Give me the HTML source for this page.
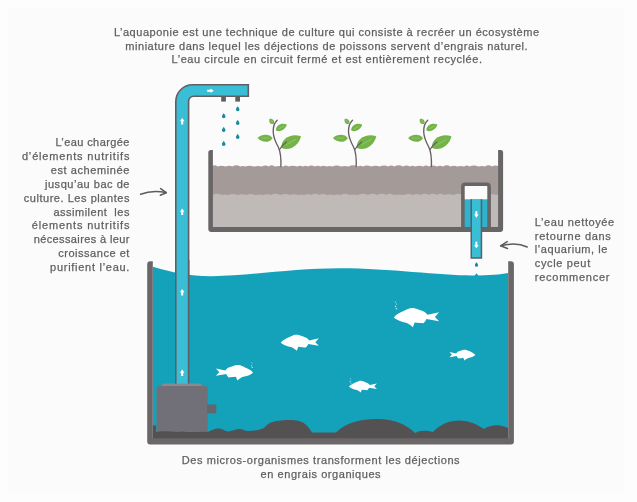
<!DOCTYPE html>
<html><head><meta charset="utf-8"><style>
html,body{margin:0;padding:0;background:#fbfbfb;}
svg{display:block;font-family:"Liberation Sans",sans-serif;}
text{will-change:transform;}
</style></head><body>
<svg width="637" height="502" viewBox="0 0 637 502">
<rect width="637" height="502" fill="#fdfdfd"/>
<rect x="8" y="8" width="616" height="484" fill="#fbfbfb"/>
<text x="114.0" y="35.7" textLength="425.0" lengthAdjust="spacing" font-size="11" fill="#5f5f5f" stroke="#5f5f5f" stroke-width="0.25">L’aquaponie est une technique de culture qui consiste à recréer un écosystème</text>
<text x="125.3" y="49.8" textLength="402.3" lengthAdjust="spacing" font-size="11" fill="#5f5f5f" stroke="#5f5f5f" stroke-width="0.25">miniature dans lequel les déjections de poissons servent d’engrais naturel.</text>
<text x="171.6" y="63.2" textLength="310.4" lengthAdjust="spacing" font-size="11" fill="#5f5f5f" stroke="#5f5f5f" stroke-width="0.25">L’eau circule en circuit fermé et est entièrement recyclée.</text>
<text x="55.4" y="146.0" textLength="74.0" lengthAdjust="spacing" font-size="11" fill="#5f5f5f" stroke="#5f5f5f" stroke-width="0.25">L’eau chargée</text>
<text x="21.9" y="159.9" textLength="107.5" lengthAdjust="spacing" font-size="11" fill="#5f5f5f" stroke="#5f5f5f" stroke-width="0.25">d’élements nutritifs</text>
<text x="50.7" y="173.8" textLength="78.7" lengthAdjust="spacing" font-size="11" fill="#5f5f5f" stroke="#5f5f5f" stroke-width="0.25">est acheminée</text>
<text x="45.0" y="187.7" textLength="84.4" lengthAdjust="spacing" font-size="11" fill="#5f5f5f" stroke="#5f5f5f" stroke-width="0.25">jusqu’au bac de</text>
<text x="23.7" y="201.6" textLength="105.7" lengthAdjust="spacing" font-size="11" fill="#5f5f5f" stroke="#5f5f5f" stroke-width="0.25">culture. Les plantes</text>
<text x="53.5" y="215.5" textLength="75.9" lengthAdjust="spacing" font-size="11" fill="#5f5f5f" stroke="#5f5f5f" stroke-width="0.25">assimilent  les</text>
<text x="31.8" y="229.4" textLength="97.6" lengthAdjust="spacing" font-size="11" fill="#5f5f5f" stroke="#5f5f5f" stroke-width="0.25">élements nutritifs</text>
<text x="33.7" y="243.3" textLength="95.7" lengthAdjust="spacing" font-size="11" fill="#5f5f5f" stroke="#5f5f5f" stroke-width="0.25">nécessaires à leur</text>
<text x="58.2" y="257.2" textLength="71.2" lengthAdjust="spacing" font-size="11" fill="#5f5f5f" stroke="#5f5f5f" stroke-width="0.25">croissance et</text>
<text x="50.1" y="271.1" textLength="79.3" lengthAdjust="spacing" font-size="11" fill="#5f5f5f" stroke="#5f5f5f" stroke-width="0.25">purifient l’eau.</text>
<text x="534.8" y="225.6" textLength="79.4" lengthAdjust="spacing" font-size="11" fill="#5f5f5f" stroke="#5f5f5f" stroke-width="0.25">L’eau nettoyée</text>
<text x="534.8" y="239.5" textLength="76.0" lengthAdjust="spacing" font-size="11" fill="#5f5f5f" stroke="#5f5f5f" stroke-width="0.25">retourne dans</text>
<text x="534.8" y="253.4" textLength="72.6" lengthAdjust="spacing" font-size="11" fill="#5f5f5f" stroke="#5f5f5f" stroke-width="0.25">l’aquarium, le</text>
<text x="534.8" y="267.2" textLength="55.4" lengthAdjust="spacing" font-size="11" fill="#5f5f5f" stroke="#5f5f5f" stroke-width="0.25">cycle peut</text>
<text x="534.8" y="281.1" textLength="74.7" lengthAdjust="spacing" font-size="11" fill="#5f5f5f" stroke="#5f5f5f" stroke-width="0.25">recommencer</text>
<text x="181.7" y="464.0" textLength="277.9" lengthAdjust="spacing" font-size="11" fill="#5f5f5f" stroke="#5f5f5f" stroke-width="0.25">Des micros-organismes transforment les déjections</text>
<text x="260.6" y="477.5" textLength="120.0" lengthAdjust="spacing" font-size="11" fill="#5f5f5f" stroke="#5f5f5f" stroke-width="0.25">en engrais organiques</text>
<path d="M140.6,194.2 Q152,190 166,192.6" fill="none" stroke="#5c5c5c" stroke-width="1.5" stroke-linecap="round"/>
<path d="M160.6,188.6 L166.3,192.7 L160.3,195.2" fill="none" stroke="#5c5c5c" stroke-width="1.5" stroke-linecap="round" stroke-linejoin="round"/>
<path d="M527.2,247.0 Q516,241.8 501,245.8" fill="none" stroke="#5c5c5c" stroke-width="1.5" stroke-linecap="round"/>
<path d="M507.2,241.6 L500.6,245.8 L507.5,248.5" fill="none" stroke="#5c5c5c" stroke-width="1.5" stroke-linecap="round" stroke-linejoin="round"/>
<path d="M212,166.5 Q214.7,164.1 217.5,166.5 Q221.5,165.1 225.6,166.5 Q229.1,164.8 232.6,166.5 Q236.4,164.2 240.2,166.5 Q242.8,165.5 245.5,166.5 Q249.7,164.8 253.9,166.5 Q257.9,165.6 262.0,166.5 Q265.4,164.3 268.8,166.5 Q271.7,163.9 274.6,166.5 Q279.0,165.5 283.3,166.5 Q285.8,164.6 288.3,166.5 Q292.7,164.9 297.2,166.5 Q300.1,164.8 303.0,166.5 Q305.5,165.2 308.0,166.5 Q311.4,164.7 314.7,166.5 Q317.7,165.2 320.6,166.5 Q323.5,164.8 326.4,166.5 Q329.5,165.6 332.6,166.5 Q336.8,164.6 341.0,166.5 Q344.8,165.3 348.6,166.5 Q353.1,164.1 357.6,166.5 Q360.3,165.0 363.0,166.5 Q367.0,164.3 371.0,166.5 Q375.4,164.8 379.8,166.5 Q384.0,164.4 388.2,166.5 Q391.3,164.5 394.4,166.5 Q398.7,164.1 403.0,166.5 Q406.5,164.5 410.0,166.5 Q412.5,165.2 415.0,166.5 Q419.2,164.9 423.3,166.5 Q426.1,164.6 428.9,166.5 Q432.8,164.4 436.8,166.5 Q440.0,164.8 443.2,166.5 Q446.8,164.2 450.3,166.5 Q453.8,164.9 457.4,166.5 Q460.8,165.5 464.3,166.5 Q466.9,164.3 469.4,166.5 Q473.9,164.5 478.4,166.5 Q481.7,165.3 485.0,166.5 Q488.5,163.8 492.0,166.5 Q495.5,164.6 499.0,166.5 V228 H212 Z" fill="#a49b99"/>
<path d="M212,195.0 Q217.1,192.4 222.2,195.0 Q225.1,193.9 228.1,195.0 Q232.9,192.8 237.7,195.0 Q242.1,193.5 246.5,195.0 Q250.7,193.0 255.0,195.0 Q259.2,193.8 263.4,195.0 Q267.2,193.4 271.1,195.0 Q275.6,192.3 280.1,195.0 Q285.2,193.1 290.3,195.0 Q294.1,193.6 298.0,195.0 Q300.9,194.1 303.8,195.0 Q307.7,193.5 311.6,195.0 Q315.3,192.5 319.0,195.0 Q323.1,193.1 327.2,195.0 Q330.5,194.1 333.9,195.0 Q337.5,193.9 341.1,195.0 Q345.1,192.3 349.1,195.0 Q353.5,193.8 357.9,195.0 Q362.9,192.7 367.8,195.0 Q372.4,192.5 377.0,195.0 Q381.6,192.7 386.2,195.0 Q389.9,192.3 393.5,195.0 Q398.6,193.8 403.7,195.0 Q408.3,192.8 413.0,195.0 Q416.9,193.1 420.8,195.0 Q424.7,192.4 428.7,195.0 Q432.7,192.6 436.7,195.0 Q440.4,192.5 444.0,195.0 Q449.0,193.3 453.9,195.0 Q458.1,192.4 462.3,195.0 Q466.8,193.2 471.3,195.0 Q474.7,193.5 478.0,195.0 Q482.5,193.8 487.0,195.0 Q491.9,193.6 496.9,195.0 Q498.0,193.5 499.0,195.0 V228 H212 Z" fill="#bfbab7"/>
<rect x="462.9" y="184.2" width="26.2" height="46" fill="#fbfbfb"/>
<rect x="463" y="199.3" width="26" height="30" fill="#2eb2cd"/>
<path d="M462.9,230 V186.5 Q462.9,184.2 465.2,184.2 H486.8 Q489.1,184.2 489.1,186.5 V230" fill="none" stroke="#686566" stroke-width="3.6"/>
<path d="M208.3,152.6 Q208.3,150 210.9,150 H212.9 V227 H498.1 V150 H500.5 Q503.1,150 503.1,152.6 V229 Q503.1,232 500.1,232 H211.3 Q208.3,232 208.3,229 Z" fill="#686566"/>
<path d="M471.25,199.3 V258.0 H481.45 V199.3" fill="#3abed6" stroke="#5f5f63" stroke-width="1.5"/>
<path transform="translate(476.35,214.3) rotate(180) scale(1.0)" d="M0,-3.4 L2.3,-0.3 L1.0,-0.3 L1.0,3.1 L-1.0,3.1 L-1.0,-0.3 L-2.3,-0.3 Z" fill="#fff"/>
<path transform="translate(476.35,244.9) rotate(180) scale(1.0)" d="M0,-3.4 L2.3,-0.3 L1.0,-0.3 L1.0,3.1 L-1.0,3.1 L-1.0,-0.3 L-2.3,-0.3 Z" fill="#fff"/>
<path transform="translate(476.5,264.6) scale(0.9)" d="M0,-2.6 C0.9,-1.4 1.8,-0.4 1.8,0.6 A1.8,1.8 0 0 1 -1.8,0.6 C-1.8,-0.4 -0.9,-1.4 0,-2.6 Z" fill="#1a8b9f"/>
<g transform="translate(0,0)">
<path transform="translate(273.90,123.70) rotate(-133.2) scale(6.58,5.50)" d="M0,0 C0.2,-0.55 0.7,-0.55 1,0 C0.7,0.5 0.2,0.5 0,0 Z" fill="#74b348"/>
<path d="M272.8,122.5 L270.5,120.1" stroke="#a9d38c" stroke-width="0.7" opacity="0.8"/>
<path transform="translate(275.80,130.30) rotate(-27.2) scale(12.48,8.00)" d="M0,0 C0.2,-0.55 0.7,-0.55 1,0 C0.7,0.5 0.2,0.5 0,0 Z" fill="#74b348"/>
<path d="M278.6,128.9 L284.1,126.0" stroke="#a9d38c" stroke-width="0.7" opacity="0.8"/>
<path transform="translate(272.60,138.20) rotate(-179.2) scale(15.00,9.00)" d="M0,0 C0.2,-0.55 0.7,-0.55 1,0 C0.7,0.5 0.2,0.5 0,0 Z" fill="#74b348"/>
<path d="M268.9,138.1 L261.4,138.1" stroke="#a9d38c" stroke-width="0.7" opacity="0.8"/>
<path transform="translate(281.20,147.80) rotate(-30.4) scale(22.95,14.50)" d="M0,0 C0.2,-0.55 0.7,-0.55 1,0 C0.7,0.5 0.2,0.5 0,0 Z" fill="#74b348"/>
<path d="M286.1,144.9 L296.1,139.1" stroke="#a9d38c" stroke-width="0.7" opacity="0.8"/>
</g>
<path transform="translate(0,0)" d="M280.9,166.5 C281.2,158 280.5,152 278.5,147.5 C276,143 273.5,138 273.2,132 C273,127 273.8,123.5 277.2,120.3" fill="none" stroke="#675f62" stroke-width="1.35" stroke-linecap="round"/>
<path transform="translate(0,0)" d="M279.6,149.5 C281.5,146.5 283.5,144 286.3,142" fill="none" stroke="#675f62" stroke-width="1.2" stroke-linecap="round"/>
<g transform="translate(75.3,0)">
<path transform="translate(273.90,123.70) rotate(-133.2) scale(6.58,5.50)" d="M0,0 C0.2,-0.55 0.7,-0.55 1,0 C0.7,0.5 0.2,0.5 0,0 Z" fill="#74b348"/>
<path d="M272.8,122.5 L270.5,120.1" stroke="#a9d38c" stroke-width="0.7" opacity="0.8"/>
<path transform="translate(275.80,130.30) rotate(-27.2) scale(12.48,8.00)" d="M0,0 C0.2,-0.55 0.7,-0.55 1,0 C0.7,0.5 0.2,0.5 0,0 Z" fill="#74b348"/>
<path d="M278.6,128.9 L284.1,126.0" stroke="#a9d38c" stroke-width="0.7" opacity="0.8"/>
<path transform="translate(272.60,138.20) rotate(-179.2) scale(15.00,9.00)" d="M0,0 C0.2,-0.55 0.7,-0.55 1,0 C0.7,0.5 0.2,0.5 0,0 Z" fill="#74b348"/>
<path d="M268.9,138.1 L261.4,138.1" stroke="#a9d38c" stroke-width="0.7" opacity="0.8"/>
<path transform="translate(281.20,147.80) rotate(-30.4) scale(22.95,14.50)" d="M0,0 C0.2,-0.55 0.7,-0.55 1,0 C0.7,0.5 0.2,0.5 0,0 Z" fill="#74b348"/>
<path d="M286.1,144.9 L296.1,139.1" stroke="#a9d38c" stroke-width="0.7" opacity="0.8"/>
</g>
<path transform="translate(75.3,0)" d="M280.9,166.5 C281.2,158 280.5,152 278.5,147.5 C276,143 273.5,138 273.2,132 C273,127 273.8,123.5 277.2,120.3" fill="none" stroke="#675f62" stroke-width="1.35" stroke-linecap="round"/>
<path transform="translate(75.3,0)" d="M279.6,149.5 C281.5,146.5 283.5,144 286.3,142" fill="none" stroke="#675f62" stroke-width="1.2" stroke-linecap="round"/>
<g transform="translate(150.5,0)">
<path transform="translate(273.90,123.70) rotate(-133.2) scale(6.58,5.50)" d="M0,0 C0.2,-0.55 0.7,-0.55 1,0 C0.7,0.5 0.2,0.5 0,0 Z" fill="#74b348"/>
<path d="M272.8,122.5 L270.5,120.1" stroke="#a9d38c" stroke-width="0.7" opacity="0.8"/>
<path transform="translate(275.80,130.30) rotate(-27.2) scale(12.48,8.00)" d="M0,0 C0.2,-0.55 0.7,-0.55 1,0 C0.7,0.5 0.2,0.5 0,0 Z" fill="#74b348"/>
<path d="M278.6,128.9 L284.1,126.0" stroke="#a9d38c" stroke-width="0.7" opacity="0.8"/>
<path transform="translate(272.60,138.20) rotate(-179.2) scale(15.00,9.00)" d="M0,0 C0.2,-0.55 0.7,-0.55 1,0 C0.7,0.5 0.2,0.5 0,0 Z" fill="#74b348"/>
<path d="M268.9,138.1 L261.4,138.1" stroke="#a9d38c" stroke-width="0.7" opacity="0.8"/>
<path transform="translate(281.20,147.80) rotate(-30.4) scale(22.95,14.50)" d="M0,0 C0.2,-0.55 0.7,-0.55 1,0 C0.7,0.5 0.2,0.5 0,0 Z" fill="#74b348"/>
<path d="M286.1,144.9 L296.1,139.1" stroke="#a9d38c" stroke-width="0.7" opacity="0.8"/>
</g>
<path transform="translate(150.5,0)" d="M280.9,166.5 C281.2,158 280.5,152 278.5,147.5 C276,143 273.5,138 273.2,132 C273,127 273.8,123.5 277.2,120.3" fill="none" stroke="#675f62" stroke-width="1.35" stroke-linecap="round"/>
<path transform="translate(150.5,0)" d="M279.6,149.5 C281.5,146.5 283.5,144 286.3,142" fill="none" stroke="#675f62" stroke-width="1.2" stroke-linecap="round"/>
<rect x="221.2" y="96" width="4.7" height="5.6" fill="#5f5f63"/>
<rect x="235.3" y="96" width="4.7" height="5.6" fill="#5f5f63"/>
<path d="M175.8,384 V101.5 A16.7,16.7 0 0 1 192.5,84.8 H248.3 V96.2 H194 A5,5 0 0 0 188.6,101.2 V384" fill="#3abed6" stroke="#5f5f63" stroke-width="1.6"/>
<path transform="translate(182.2,121.5) rotate(0) scale(1.0)" d="M0,-3.4 L2.3,-0.3 L1.0,-0.3 L1.0,3.1 L-1.0,3.1 L-1.0,-0.3 L-2.3,-0.3 Z" fill="#fff"/>
<path transform="translate(182.2,212) rotate(0) scale(1.0)" d="M0,-3.4 L2.3,-0.3 L1.0,-0.3 L1.0,3.1 L-1.0,3.1 L-1.0,-0.3 L-2.3,-0.3 Z" fill="#fff"/>
<path transform="translate(182.2,292.5) rotate(0) scale(1.0)" d="M0,-3.4 L2.3,-0.3 L1.0,-0.3 L1.0,3.1 L-1.0,3.1 L-1.0,-0.3 L-2.3,-0.3 Z" fill="#fff"/>
<path transform="translate(182.2,373) rotate(0) scale(1.0)" d="M0,-3.4 L2.3,-0.3 L1.0,-0.3 L1.0,3.1 L-1.0,3.1 L-1.0,-0.3 L-2.3,-0.3 Z" fill="#fff"/>
<path transform="translate(210.3,90.8) rotate(90) scale(1.0)" d="M0,-3.4 L2.3,-0.3 L1.0,-0.3 L1.0,3.1 L-1.0,3.1 L-1.0,-0.3 L-2.3,-0.3 Z" fill="#fff"/>
<path transform="translate(223.7,115.8) scale(1.0)" d="M0,-2.6 C0.9,-1.4 1.8,-0.4 1.8,0.6 A1.8,1.8 0 0 1 -1.8,0.6 C-1.8,-0.4 -0.9,-1.4 0,-2.6 Z" fill="#1a8b9f"/>
<path transform="translate(223.7,129.7) scale(1.0)" d="M0,-2.6 C0.9,-1.4 1.8,-0.4 1.8,0.6 A1.8,1.8 0 0 1 -1.8,0.6 C-1.8,-0.4 -0.9,-1.4 0,-2.6 Z" fill="#1a8b9f"/>
<path transform="translate(223.7,143.7) scale(1.0)" d="M0,-2.6 C0.9,-1.4 1.8,-0.4 1.8,0.6 A1.8,1.8 0 0 1 -1.8,0.6 C-1.8,-0.4 -0.9,-1.4 0,-2.6 Z" fill="#1a8b9f"/>
<path transform="translate(237.7,108.8) scale(1.0)" d="M0,-2.6 C0.9,-1.4 1.8,-0.4 1.8,0.6 A1.8,1.8 0 0 1 -1.8,0.6 C-1.8,-0.4 -0.9,-1.4 0,-2.6 Z" fill="#1a8b9f"/>
<path transform="translate(237.7,122.7) scale(1.0)" d="M0,-2.6 C0.9,-1.4 1.8,-0.4 1.8,0.6 A1.8,1.8 0 0 1 -1.8,0.6 C-1.8,-0.4 -0.9,-1.4 0,-2.6 Z" fill="#1a8b9f"/>
<path transform="translate(237.7,136.7) scale(1.0)" d="M0,-2.6 C0.9,-1.4 1.8,-0.4 1.8,0.6 A1.8,1.8 0 0 1 -1.8,0.6 C-1.8,-0.4 -0.9,-1.4 0,-2.6 Z" fill="#1a8b9f"/>
<path d="M152.8,266.7 C172,272.5 192,276.5 212,276.2 C252,275.5 295,268.3 340,268.3 C390,268.5 440,275.5 472,275.5 C490,275.5 500,274.5 508.2,273 V440 H152.8 Z" fill="#14a2bb"/>
<path d="M474.3,276 L476.5,273.2 L478.7,276 Z" fill="#14a2bb"/>
<rect x="175.8" y="260" width="12.8" height="124" fill="#3abed6"/>
<path d="M175.8,260 V384 M188.6,260 V384" stroke="#5f5f63" stroke-width="1.6"/>
<path transform="translate(182.2,292.5) rotate(0) scale(1.0)" d="M0,-3.4 L2.3,-0.3 L1.0,-0.3 L1.0,3.1 L-1.0,3.1 L-1.0,-0.3 L-2.3,-0.3 Z" fill="#fff"/>
<path transform="translate(182.2,373) rotate(0) scale(1.0)" d="M0,-3.4 L2.3,-0.3 L1.0,-0.3 L1.0,3.1 L-1.0,3.1 L-1.0,-0.3 L-2.3,-0.3 Z" fill="#fff"/>
<rect x="162.1" y="383.6" width="39.2" height="3" fill="#8a898e"/>
<rect x="156.5" y="385.9" width="51.3" height="52" rx="3" fill="#717078"/>
<rect x="207" y="404.5" width="9.3" height="8.8" fill="#65666d"/>
<path d="M152.8,425.4 L156,425.4 L156,432 C165,430 175,433 183,431.5 C190,433 200,431 208,432 C211,430.5 214,428.5 219,428.5 C223,428.5 225,431.5 228,431.5 C232,431.5 235,429 239,429 C243,429 245,431 248,431 C254,431 259,430 264,428 C268,422 276,420 291,420 C302,420 307,424 312,432.5 L336,432.5 C345,423 360,419 377,419 C395,419 407,425 415,433 C420,430.5 425,430 433,432 C440,424 450,420.4 459,420.4 C470,420.4 478,425 484,429 C488,426 493,425 498,425.2 C503,425.5 506,427 508.2,428 V440 H152.8 Z" fill="#545152"/>
<path d="M147.2,264.3 Q147.2,261.3 150.2,261.3 H152.8 V438.2 H508.2 V261.3 H510.9 Q513.9,261.3 513.9,264.3 V441.5 Q513.9,444.5 510.9,444.5 H150.2 Q147.2,444.5 147.2,441.5 Z" fill="#6b6768"/>
<path transform="translate(393.8,317.4) scale(1.0,1.0)" d="M0,0 L1.5,-1.6 L3,-2.8 L4.66,-3.81 L7,-5.1 L9.75,-6.36 L11.8,-7.4 L13.56,-8.05 L15.5,-8.9 L17.37,-9.32 L19.5,-9.35 L21.6,-8.95 L24,-8.2 L26.7,-7.2 L28.8,-6.4 L30.9,-5.5 L32.5,-4.0 L33.9,-2.54 L45.3,-5.08 L41.1,-0.42 L45.3,3.81 L32.6,1.69 L31.8,3.39 L29.7,5.93 L27.8,5.7 L25.8,5.5 L23,5.3 L20.8,5.08 L19.1,9.75 L16.5,7.63 L13.1,5.5 L9,4.6 L5.5,3.39 L2.5,1.9 L0.8,0.8 Z" fill="#fff"/>
<path transform="translate(280.8,342.6) scale(0.84,0.84)" d="M0,0 L1.5,-1.6 L3,-2.8 L4.66,-3.81 L7,-5.1 L9.75,-6.36 L11.8,-7.4 L13.56,-8.05 L15.5,-8.9 L17.37,-9.32 L19.5,-9.35 L21.6,-8.95 L24,-8.2 L26.7,-7.2 L28.8,-6.4 L30.9,-5.5 L32.5,-4.0 L33.9,-2.54 L45.3,-5.08 L41.1,-0.42 L45.3,3.81 L32.6,1.69 L31.8,3.39 L29.7,5.93 L27.8,5.7 L25.8,5.5 L23,5.3 L20.8,5.08 L19.1,9.75 L16.5,7.63 L13.1,5.5 L9,4.6 L5.5,3.39 L2.5,1.9 L0.8,0.8 Z" fill="#fff"/>
<path transform="translate(253.0,372.6) scale(-0.82,0.82)" d="M0,0 L1.5,-1.6 L3,-2.8 L4.66,-3.81 L7,-5.1 L9.75,-6.36 L11.8,-7.4 L13.56,-8.05 L15.5,-8.9 L17.37,-9.32 L19.5,-9.35 L21.6,-8.95 L24,-8.2 L26.7,-7.2 L28.8,-6.4 L30.9,-5.5 L32.5,-4.0 L33.9,-2.54 L45.3,-5.08 L41.1,-0.42 L45.3,3.81 L32.6,1.69 L31.8,3.39 L29.7,5.93 L27.8,5.7 L25.8,5.5 L23,5.3 L20.8,5.08 L19.1,9.75 L16.5,7.63 L13.1,5.5 L9,4.6 L5.5,3.39 L2.5,1.9 L0.8,0.8 Z" fill="#fff"/>
<path transform="translate(349.0,386.6) scale(0.615,0.615)" d="M0,0 L1.5,-1.6 L3,-2.8 L4.66,-3.81 L7,-5.1 L9.75,-6.36 L11.8,-7.4 L13.56,-8.05 L15.5,-8.9 L17.37,-9.32 L19.5,-9.35 L21.6,-8.95 L24,-8.2 L26.7,-7.2 L28.8,-6.4 L30.9,-5.5 L32.5,-4.0 L33.9,-2.54 L45.3,-5.08 L41.1,-0.42 L45.3,3.81 L32.6,1.69 L31.8,3.39 L29.7,5.93 L27.8,5.7 L25.8,5.5 L23,5.3 L20.8,5.08 L19.1,9.75 L16.5,7.63 L13.1,5.5 L9,4.6 L5.5,3.39 L2.5,1.9 L0.8,0.8 Z" fill="#fff"/>
<path transform="translate(475.3,355.0) scale(-0.57,0.57)" d="M0,0 L1.5,-1.6 L3,-2.8 L4.66,-3.81 L7,-5.1 L9.75,-6.36 L11.8,-7.4 L13.56,-8.05 L15.5,-8.9 L17.37,-9.32 L19.5,-9.35 L21.6,-8.95 L24,-8.2 L26.7,-7.2 L28.8,-6.4 L30.9,-5.5 L32.5,-4.0 L33.9,-2.54 L45.3,-5.08 L41.1,-0.42 L45.3,3.81 L32.6,1.69 L31.8,3.39 L29.7,5.93 L27.8,5.7 L25.8,5.5 L23,5.3 L20.8,5.08 L19.1,9.75 L16.5,7.63 L13.1,5.5 L9,4.6 L5.5,3.39 L2.5,1.9 L0.8,0.8 Z" fill="#fff"/>
<g transform="translate(395.5,301.5) scale(1)" fill="#c8ecf3"><circle cx="0" cy="0.5" r="0.6"/><circle cx="1" cy="2.5" r="0.6"/><circle cx="0" cy="5" r="0.75"/><circle cx="1" cy="7.2" r="0.75"/></g>
<g transform="translate(251.5,362) scale(0.75)" fill="#c8ecf3"><circle cx="0" cy="0.5" r="0.6"/><circle cx="1" cy="2.5" r="0.6"/><circle cx="0" cy="5" r="0.75"/><circle cx="1" cy="7.2" r="0.75"/></g>
<g transform="translate(350.2,377.8) scale(0.72)" fill="#c8ecf3"><circle cx="0" cy="0.5" r="0.6"/><circle cx="1" cy="2.5" r="0.6"/><circle cx="0" cy="5" r="0.75"/><circle cx="1" cy="7.2" r="0.75"/></g>
</svg></body></html>
